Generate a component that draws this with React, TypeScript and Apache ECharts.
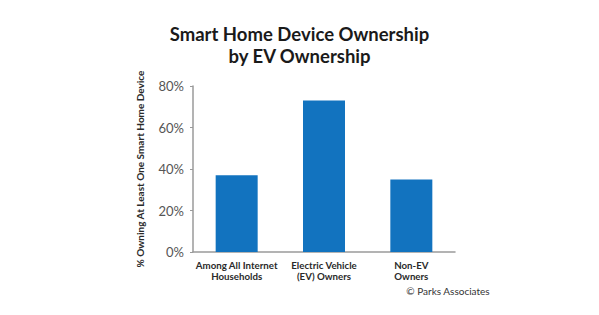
import React, { useEffect, useRef } from "react";
import * as echarts from "echarts";

const categories = ["Among All Internet\nHouseholds", "Electric Vehicle\n(EV) Owners", "Non-EV\nOwners"];
const values = [37, 73, 35];
const yTicks = [0, 20, 40, 60, 80];

const FONT = "Lato, 'Open Sans', sans-serif";

export default function App() {
  const ref = useRef<HTMLDivElement>(null);

  useEffect(() => {
    if (!ref.current) return;
    const chart = echarts.init(ref.current, null, { renderer: "svg" });
    chart.setOption({
      animation: false,
      backgroundColor: "#ffffff",
      title: {
        text: "Smart Home Device Ownership\nby EV Ownership",
        left: "center",
        top: 18,
        textStyle: {
          fontFamily: FONT,
          fontWeight: "bold",
          fontSize: 18.5,
          lineHeight: 22,
          color: "#1a1a1a",
        },
      },
      graphic: [
        {
          type: "text",
          right: 109,
          top: 286,
          style: {
            text: "© Parks Associates",
            fontFamily: FONT,
            fontSize: 10,
            fill: "#333333",
          },
        },
      ],
      grid: { left: 193, right: 144, top: 86, bottom: 63 },
      xAxis: {
        type: "category",
        data: categories,
        axisLine: { lineStyle: { color: "#9a9a9a", width: 1.5 } },
        axisTick: { show: false },
        axisLabel: {
          fontFamily: FONT,
          fontWeight: "bold",
          fontSize: 9.7,
          lineHeight: 11,
          color: "#2a2a2a",
          margin: 7,
          interval: 0,
        },
      },
      yAxis: {
        type: "value",
        min: 0,
        max: 80,
        interval: 20,
        name: "% Owning At Least One Smart Home Device",
        nameLocation: "middle",
        nameGap: 48,
        nameTextStyle: {
          fontFamily: FONT,
          fontWeight: "bold",
          fontSize: 10,
          color: "#2a2a2a",
        },
        axisLine: { show: true, lineStyle: { color: "#9a9a9a", width: 1.5 } },
        axisTick: { show: true, length: 3, inside: false, lineStyle: { color: "#9a9a9a" } },
        splitLine: { show: false },
        axisLabel: {
          fontFamily: FONT,
          fontSize: 13,
          color: "#555555",
          margin: 9,
          formatter: (v: number) => (yTicks.includes(v) ? `${v}%` : ""),
        },
      },
      series: [
        {
          type: "bar",
          data: values,
          barWidth: 42,
          itemStyle: { color: "#1273bf" },
        },
      ],
    });
    return () => chart.dispose();
  }, []);

  return (
    <div
      ref={ref}
      style={{ position: "fixed", left: 0, top: 0, width: 599, height: 315 }}
    />
  );
}
